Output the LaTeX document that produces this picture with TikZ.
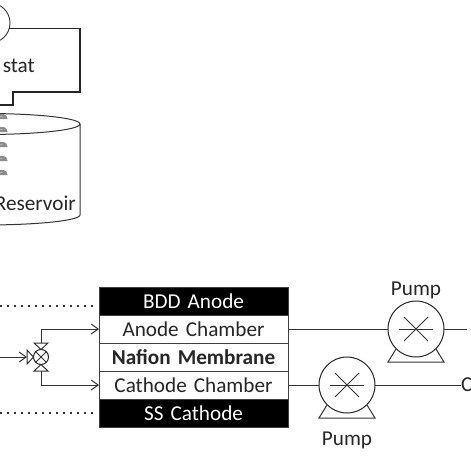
\documentclass[tikz,border=0pt]{standalone}
\usepackage{fontspec}
\setmainfont{Carlito}
\usepackage{tikz}
\usetikzlibrary{positioning,arrows.meta,calc}

\begin{document}
\begin{tikzpicture}[
  x=1pt, y=-1pt,
  font=\fontsize{21.2}{23}\selectfont,
  line/.style={draw=black!80, line width=1pt},
  wire/.style={draw=black!85, line width=1.3pt},
  layer/.style={draw=black!75, line width=0.9pt, align=center, inner sep=0pt, outer sep=0pt, text width=189pt, minimum height=28pt, text height=16pt, text depth=2pt, fill=white, text=black!85},
  plate/.style={layer, fill=black, text=white},
  pumpbody/.style={circle, draw=black!85, line width=1pt, minimum size=56pt, inner sep=0pt, outer sep=0pt},
  valvebody/.style={circle, draw=black!85, line width=1pt, minimum size=15pt, inner sep=0pt, outer sep=0pt},
  flow/.style={line, -{Straight Barb[length=7pt,width=10pt]}},
  bare/.style={inner sep=0pt, text=black!85}
]
  \useasboundingbox (0,0) rectangle (470,470);
  \clip (0,0) rectangle (470,470);

  % cell stack
  \node[plate] (anode) at (193.5,301) {BDD Anode};
  \node[layer, below=0pt of anode] (anodech) {Anode Chamber};
  \node[layer, below=0pt of anodech] (membrane) {\textbf{Nafion Membrane}};
  \node[layer, below=0pt of membrane] (cathodech) {Cathode Chamber};
  \node[plate, below=0pt of cathodech] (cathode) {SS Cathode};

  % pumps
  \node[pumpbody] (pumpa) at (416,329) {};
  \node[pumpbody] (pumpb) at (347,385) {};
  \node[bare, above=2pt of pumpa] (pumpalabel) {Pump};
  \node[bare, below=19pt of pumpb] (pumpblabel) {Pump};
  \foreach \p in {pumpa,pumpb} {
    \draw[line, line width=0.8pt] ($(\p)+(-17,0)$) -- ($(\p)+(17,0)$);
    \draw[line, line width=0.8pt] ($(\p)+(-12,-12)$) -- ($(\p)+(12,12)$);
    \draw[line, line width=0.8pt] ($(\p)+(-12,12)$) -- ($(\p)+(12,-12)$);
    \draw[line] ($(\p)+(-20,20)$) -- ($(\p)+(-28,33)$) -- ($(\p)+(28,33)$) -- ($(\p)+(20,20)$);
  }

  % valve
  \node[valvebody] (valve) at (41,357) {};
  \draw[line, line width=0.8pt] (valve.north west) -- (valve.south east);
  \draw[line, line width=0.8pt] (valve.north east) -- (valve.south west);
  \draw[line] (valve.west) -- (27,350) -- (27,364) -- cycle;
  \draw[line] (valve.north) -- (34,343) -- (48,343) -- cycle;
  \draw[line] (valve.south) -- (34,371) -- (48,371) -- cycle;

  % free ends
  \coordinate (feedin) at (0,357);
  \coordinate (dotsa) at (0,306);
  \coordinate (dotsb) at (0,413);
  \coordinate (outa) at (467,329);

  % pipes
  \draw[flow] (feedin) -- (27,357);
  \draw[flow] (41,343) |- (anodech.west);
  \draw[flow] (41,371) |- (cathodech.west);
  \draw[line] (anodech.east) -- (pumpa.west);
  \draw[line] (cathodech.east) -- (pumpb.west);
  \draw[line] (pumpa.east) -- (outa);
  \node[bare, anchor=west] (outb) at (461,385) {C};
  \draw[line] (pumpb.east) -- (outb.west);
  \draw[line, line width=1.6pt, dash pattern=on 2pt off 5pt, shorten >=4pt] (dotsa) -- (anode.west |- dotsa);
  \draw[line, line width=1.6pt, dash pattern=on 2pt off 5pt, shorten >=4pt] (dotsb) -- (cathode.west |- dotsb);

  % potentiostat and reservoir
  \node[circle, draw=black!80, line width=0.9pt, minimum size=40pt, inner sep=0pt, outer sep=0pt] (meter) at (-10,23) {};
  \node[bare, anchor=east] (stat) at (35,66) {stat};
  \coordinate (leada) at (0,105);
  \draw[wire] (meter.345) -| (80,92) -- (13,92) -- (13,105) -- (leada);
  \node[bare, anchor=east] (reservoir) at (76,203) {Reservoir};
  \draw[line] (80,124) arc[x radius=95, y radius=10.5, start angle=0, end angle=-180];
  \draw[line] (80,124) arc[x radius=95, y radius=10.5, start angle=0, end angle=180];
  \draw[line] (80,124) -- (80,215) arc[x radius=95, y radius=10, start angle=0, end angle=180];
  \foreach \y in {117,130,145,159,173}
    \draw[draw=black!45, line width=2.4pt, line cap=round] (-1,\y-2) to[out=0, in=90] (6,\y+1) -- (-1,\y+1);
\end{tikzpicture}
\end{document}
